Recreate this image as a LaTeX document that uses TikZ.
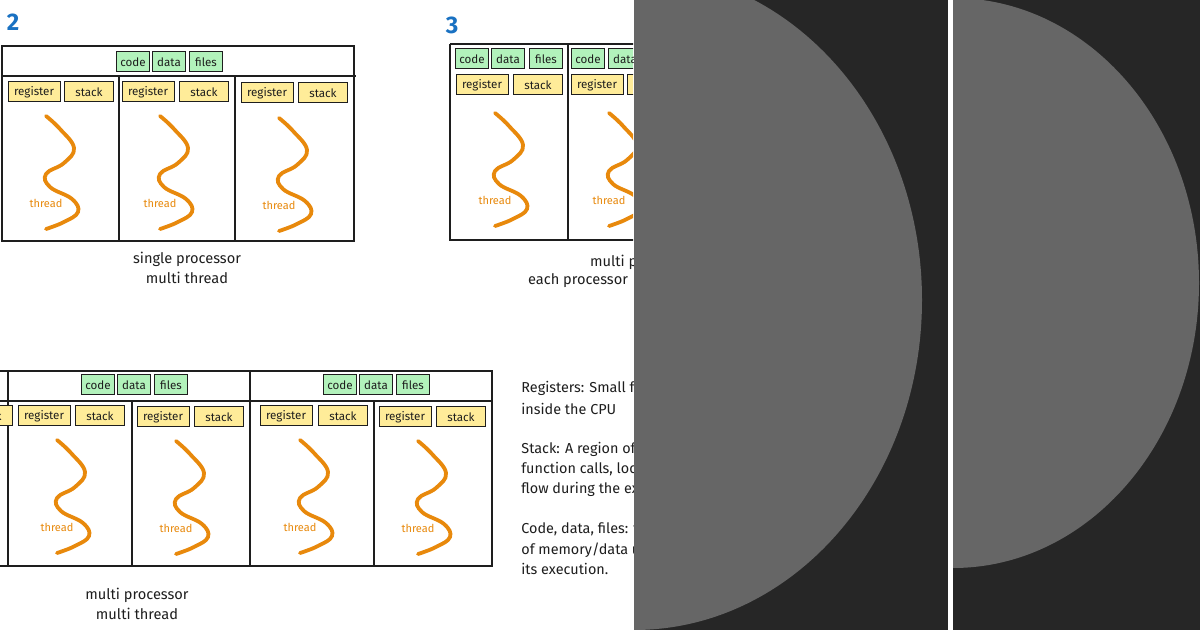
\documentclass[tikz,border=0pt]{standalone}
\usepackage{fontspec}
\setmainfont{Fira Sans}
\definecolor{ink}{HTML}{1E1E1E}
\definecolor{gfill}{HTML}{B2F2BB}
\definecolor{yfill}{HTML}{FFEC99}
\definecolor{thr}{HTML}{E8890C}
\definecolor{num}{HTML}{1971C2}
\definecolor{dark}{HTML}{262626}
\definecolor{disc}{HTML}{666666}
\begin{document}
\begin{tikzpicture}[x=0.5pt,y=-0.5pt,
  frame/.style={draw=ink,line width=0.6pt},
  box/.style={draw=ink,line width=0.5pt,inner sep=0pt,minimum height=10pt,font=\fontsize{5.8}{6}\selectfont,text=ink},
  gb/.style={box,fill=gfill,minimum width=16.5pt},
  rg/.style={box,fill=yfill,minimum width=26pt},
  sk/.style={box,fill=yfill,minimum width=24.5pt},
  captxt/.style={font=\fontsize{7.3}{8}\selectfont,text=ink},
  txt/.style={font=\fontsize{7.2}{8}\selectfont,text=ink,anchor=west,inner sep=0pt},
  numb/.style={font=\fontsize{12}{12}\selectfont\bfseries,text=num},
  thrtxt/.style={font=\fontsize{5.5}{6}\selectfont,text=thr},
  thr/.pic={\draw[thr,line width=1.9pt,line cap=round] plot[smooth,tension=0.7] coordinates{(0,0)(14,13)(28,32)(18,47)(0,58)(4,71)(26,83)(32,96)(18,106)(0,113)};
    \node[thrtxt] at (0,87) {thread};}]
\useasboundingbox (0,0) rectangle (1200,630);
\fill[white] (0,0) rectangle (634,630);
\begin{scope}
\clip (0,0) rectangle (633,630);
% ---------- diagram 2
\node[numb] (n2) at (13,22) {2};
\draw[frame] (2,46) rectangle (354,241);
\draw[frame] (2,76) -- (356,76);
\draw[frame] (119,76) -- (119,241) (235,76) -- (235,241);
\node[gb] (a1) at (133,62) {code};
\node[gb] (a2) at (169,62) {data};
\node[gb] (a3) at (206,62) {files};
\node[rg] (a4) at (34,92) {register};
\node[sk] (a5) at (89,92) {stack};
\node[rg] (a6) at (148,92) {register};
\node[sk] (a7) at (204,92) {stack};
\node[rg] (a8) at (267,93) {register};
\node[sk] (a9) at (323,93) {stack};
\pic at (46,116) {thr};
\pic at (160,116) {thr};
\pic at (279,118) {thr};
\node[captxt] (c1) at (187,259) {single processor};
\node[captxt] (c2) at (187,278) {multi thread};
% ---------- diagram 3
\node[numb] (n3) at (452,25) {3};
\draw[frame] (450,44) -- (450,240) -- (700,240) (450,44) -- (700,44);
\draw[frame] (568,44) -- (568,240);
\node[gb] (b1) at (472,59) {code};
\node[gb] (b2) at (508,59) {data};
\node[gb] (b3) at (546,59) {files};
\node[gb] (b4) at (588,59) {code};
\node[gb] (b5) at (625,59) {data};
\node[rg] (b6) at (482,85) {register};
\node[sk] (b7) at (538,85) {stack};
\node[rg] (b8) at (597,85) {register};
\node[sk] (b9) at (652,85) {stack};
\pic at (495,113) {thr};
\pic at (609,113) {thr};
\node[captxt,anchor=west] (c3) at (583,262) {multi processor};
\node[captxt,anchor=west] (c4) at (521,281) {each processor};
% ---------- diagram bottom
\draw[frame] (-10,371) -- (492,371) -- (492,566) -- (-10,566);
\draw[frame] (-10,401) -- (492,401);
\draw[frame] (8,371) -- (8,566) (250,371) -- (250,566);
\draw[frame] (132,401) -- (132,566) (374,401) -- (374,566);
\node[sk] (d0) at (-12,416) {stack};
\node[gb] (d1) at (98,385) {code};
\node[gb] (d2) at (134,385) {data};
\node[gb] (d3) at (171,385) {files};
\node[gb] (d4) at (340,385) {code};
\node[gb] (d5) at (376,385) {data};
\node[gb] (d6) at (413,385) {files};
\node[rg] (e1) at (44,416) {register};
\node[sk] (e2) at (100,416) {stack};
\node[rg] (e3) at (163,417) {register};
\node[sk] (e4) at (219,417) {stack};
\node[rg] (e5) at (286,416) {register};
\node[sk] (e6) at (343,416) {stack};
\node[rg] (e7) at (405,417) {register};
\node[sk] (e8) at (461,417) {stack};
\pic at (57,440) {thr};
\pic at (176,441) {thr};
\pic at (300,440) {thr};
\pic at (418,441) {thr};
\node[captxt] (c5) at (137,595) {multi processor};
\node[captxt] (c6) at (137,614) {multi thread};
% ---------- notes
\node[txt] (t1) at (521,388) {Registers: Small fast storage};
\node[txt] (t2) at (521,409) {inside the CPU};
\node[txt] (t3) at (521,449) {Stack: A region of memory};
\node[txt] (t4) at (521,469) {function calls, local variables};
\node[txt] (t5) at (521,489) {flow during the execution};
\node[txt] (t6) at (521,530) {Code, data, files: the parts};
\node[txt] (t7) at (521,550) {of memory/data used during};
\node[txt] (t8) at (521,569) {its execution.};
\end{scope}
% ---------- dark panels
\fill[dark] (634,0) rectangle (948,630);
\fill[dark] (953,0) rectangle (1200,630);
\begin{scope}
\clip (634,0) rectangle (948,630);
\fill[disc] (634,300) ellipse [x radius=288, y radius=330];
\end{scope}
\begin{scope}
\clip (953,0) rectangle (1200,630);
\fill[disc] (953,283) ellipse [x radius=246, y radius=285];
\end{scope}
\end{tikzpicture}
\end{document}
